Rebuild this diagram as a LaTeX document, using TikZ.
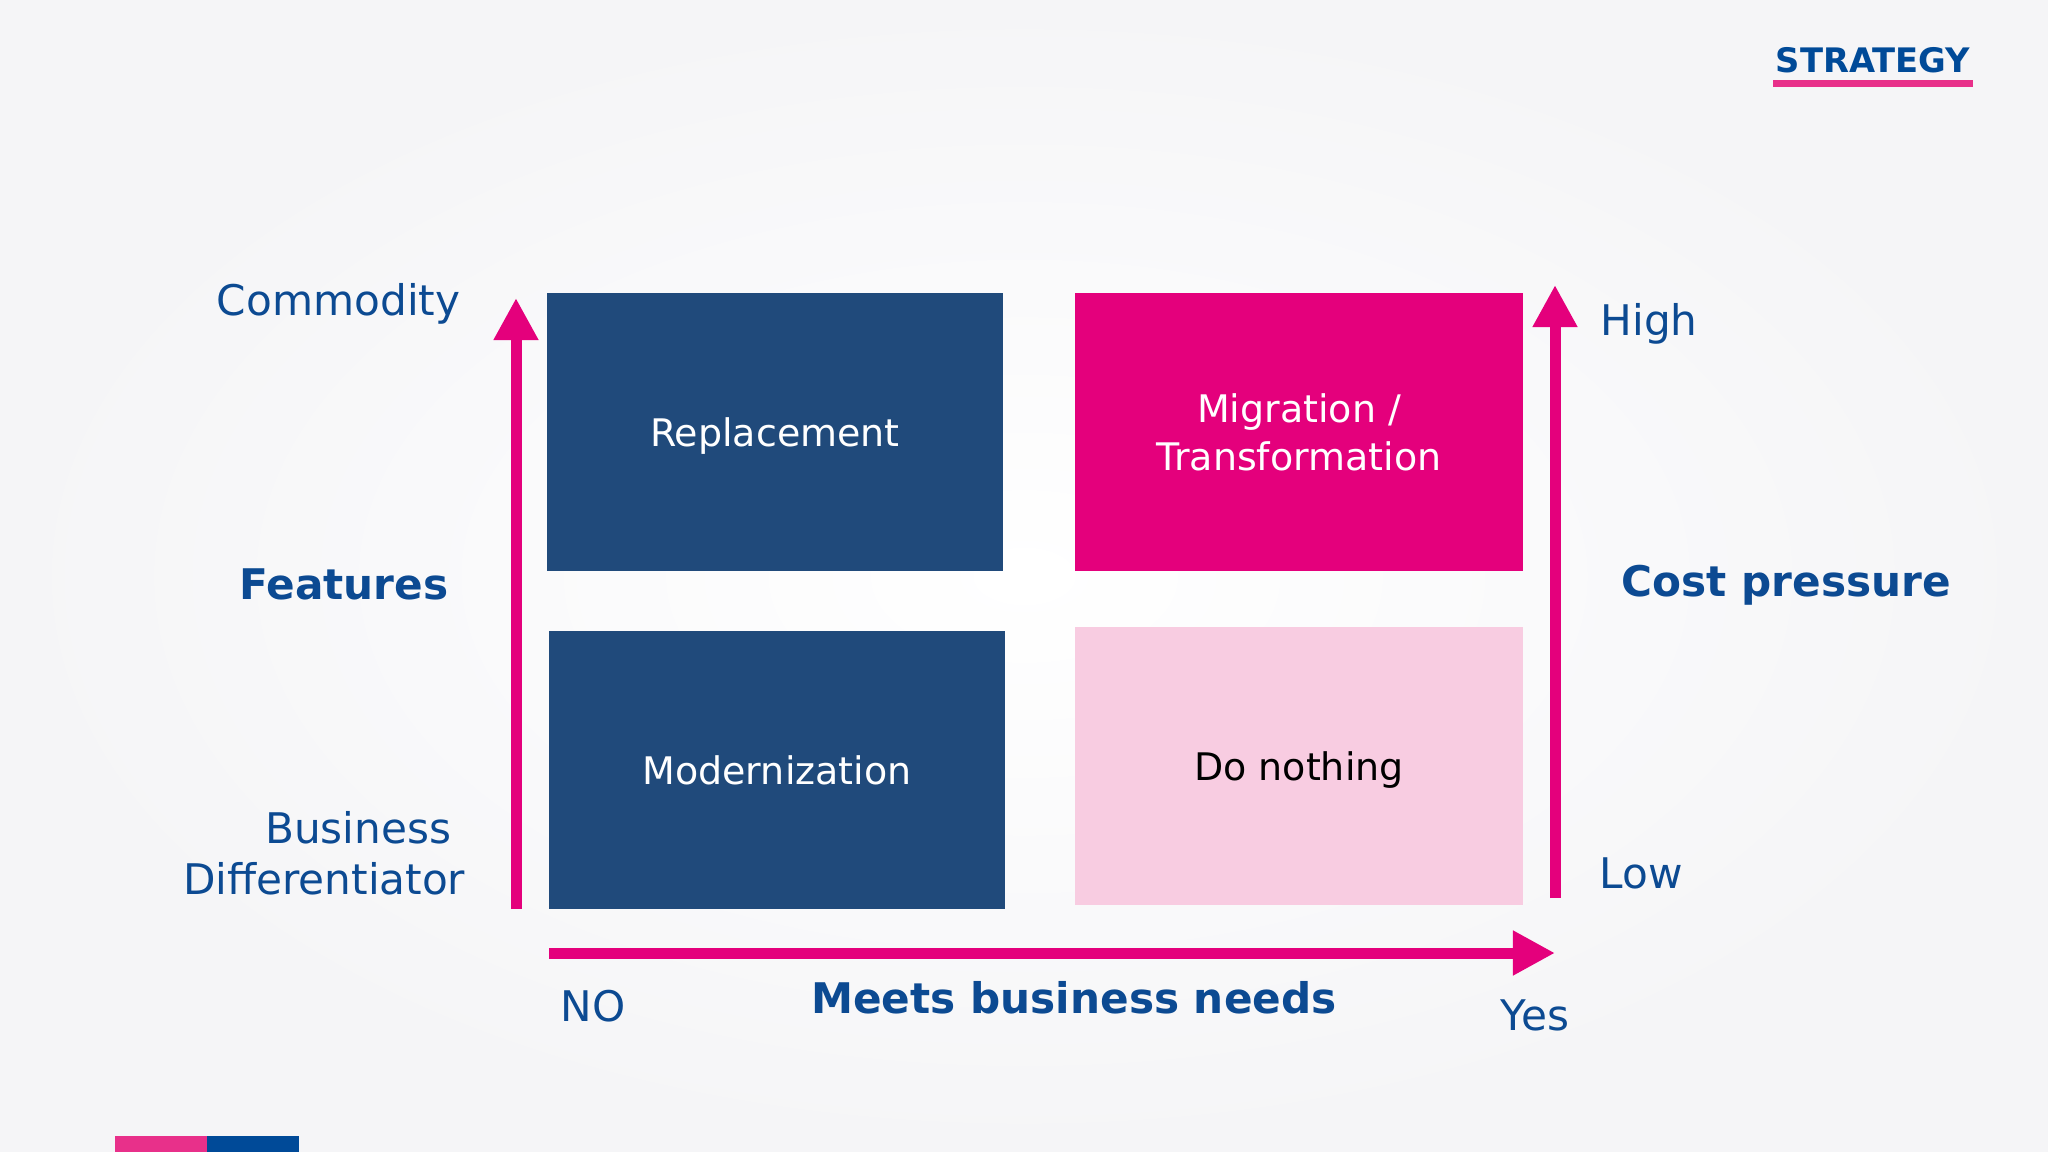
\documentclass[tikz,border=0pt]{standalone}
\usepackage{fontspec}
\setmainfont{DejaVu Sans}
\usepackage{xcolor}
\usetikzlibrary{arrows.meta,positioning}
\definecolor{boxblue}{RGB}{32,74,123}
\definecolor{hotpink}{RGB}{228,0,124}
\definecolor{palepink}{RGB}{248,204,225}
\definecolor{txtblue}{RGB}{12,74,146}
\definecolor{darkblue}{RGB}{0,74,152}
\definecolor{barpink}{RGB}{232,48,138}
\definecolor{bggray}{RGB}{245,245,247}

\begin{document}
\begin{tikzpicture}[x=0.01cm,y=-0.01cm,
	lbl/.style={text=txtblue,inner sep=0pt,font=\fontsize{12}{14.5}\selectfont},
	bold/.style={lbl,font=\fontsize{12}{14.5}\selectfont\bfseries},
	quad/.style={minimum width=4.56cm,minimum height=2.77cm,inner sep=0pt,text depth=0pt,align=center,text=white,font=\fontsize{10.8}{13.8}\selectfont},
	axis/.style={hotpink,line width=0.11cm,-{Triangle[width=0.42cm,length=0.42cm]}}]
	\useasboundingbox (0,0) rectangle (2048,1152);
	\shade[inner color=white,outer color=bggray] (0,0) rectangle (2048,1152);
	% quadrants
	\node[quad,fill=boxblue]	(repl)		at (775,432)	{Replacement};
	\node[quad,fill=hotpink,minimum width=4.48cm]	(migr)		at (1299,432)	{Migration /\\Transformation};
	\node[quad,fill=boxblue]	(modern)	at (777,770)	{Modernization};
	\node[quad,fill=palepink,text=black,minimum width=4.48cm]	(donothing)	at (1299,766)	{Do nothing};
	% axes
	\coordinate (fbot) at (516,909);	\coordinate (ftop) at (516,298);
	\coordinate (cbot) at (1555,898);	\coordinate (ctop) at (1555,285);
	\coordinate (nleft) at (549,953);	\coordinate (nright) at (1555,953);
	\draw[axis] (fbot) -- (ftop);
	\draw[axis] (cbot) -- (ctop);
	\draw[axis] (nleft) -- (nright);
	% axis labels
	\node[lbl,anchor=east]	(commodity)	at (461,304)	{Commodity};
	\node[bold]	(features)	at (344,584)	{Features};
	\node[lbl,anchor=east,align=right]	(bizdiff)	at (466,853)	{Business\hspace*{4pt}\\Differentiator};
	\node[lbl,anchor=west]	(high)	at (1600,324)	{High};
	\node[bold,anchor=west]	(costp)	at (1621,585)	{Cost pressure};
	\node[lbl,anchor=west]	(low)	at (1599,873)	{Low};
	\node[lbl,anchor=west]	(no)	at (560,1006)	{NO};
	\node[bold]	(needs)	at (1074,998)	{Meets business needs};
	\node[lbl]	(yes)	at (1535,1015)	{Yes};
	% header and footer
	\node[text=darkblue,inner sep=0pt,font=\fontsize{9.6}{12}\selectfont\bfseries]	(strategy)	at (1873,60)	{STRATEGY};
	\fill[barpink] (1773,80) rectangle (1973,87);
	\fill[barpink] (115,1136) rectangle (207,1152);
	\fill[darkblue] (207,1136) rectangle (299,1152);
\end{tikzpicture}
\end{document}
